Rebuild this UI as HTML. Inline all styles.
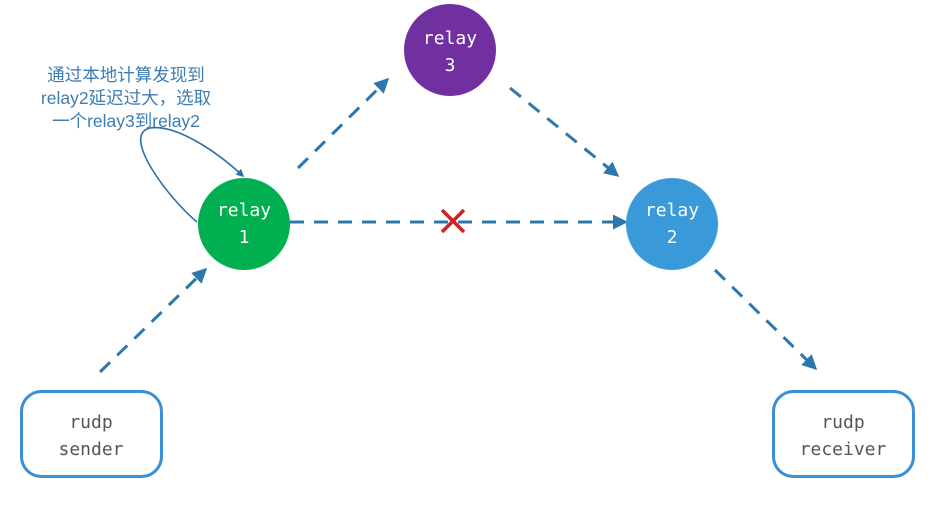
<!DOCTYPE html>
<html><head><meta charset="utf-8"><style>
body{margin:0;background:#fff;}
svg{display:block}
.m{font-family:"DejaVu Sans Mono","Liberation Mono",monospace;font-size:18px;}
</style></head><body>
<svg width="933" height="507" viewBox="0 0 933 507">
<defs>
<marker id="a" viewBox="0 0 10 10" refX="8" refY="5" markerWidth="5" markerHeight="5" orient="auto"><path d="M0,0 L10,5 L0,10 z" fill="#2e77ad"/></marker>
<marker id="b" viewBox="0 0 10 10" refX="8" refY="5" markerWidth="5" markerHeight="5" orient="auto"><path d="M0,0 L10,5 L0,10 z" fill="#2e6fa8"/></marker>
</defs>
<g stroke="#2e77ad" stroke-width="3" stroke-dasharray="14,10" fill="none" marker-end="url(#a)">
<line x1="100" y1="372" x2="205" y2="270"/>
<line x1="298" y1="168" x2="387" y2="80"/>
<line x1="510" y1="88" x2="617" y2="175"/>
<line x1="290" y1="222" x2="625" y2="222"/>
<line x1="715" y1="270" x2="815" y2="368"/>
</g>
<path d="M197,222 C170,200 120,135 150,128 C175,124 215,150 243,176" stroke="#2e6fa8" stroke-width="1.6" fill="none" marker-end="url(#b)"/>
<g stroke="#d42020" stroke-width="3.5"><line x1="442" y1="210" x2="464" y2="232"/><line x1="464" y1="210" x2="442" y2="232"/></g>
<circle cx="244" cy="224" r="46" fill="#00b050"/>
<circle cx="450" cy="50" r="46" fill="#7030a0"/>
<circle cx="672" cy="224" r="46" fill="#3a9ad9"/>
<g class="m" fill="#fff" text-anchor="middle">
<text x="244" y="216">relay</text><text x="244" y="243">1</text>
<text x="450" y="44">relay</text><text x="450" y="71">3</text>
<text x="672" y="216">relay</text><text x="672" y="243">2</text>
</g>
<rect x="21.5" y="391.5" width="140" height="85" rx="20" fill="#fff" stroke="#3a8fd6" stroke-width="3"/>
<rect x="773.5" y="391.5" width="140" height="85" rx="20" fill="#fff" stroke="#3a8fd6" stroke-width="3"/>
<g class="m" fill="#555" text-anchor="middle">
<text x="91" y="428">rudp</text><text x="91" y="455">sender</text>
<text x="843" y="428">rudp</text><text x="843" y="455">receiver</text>
</g>
<g font-family="'Liberation Sans','Noto Sans CJK SC',sans-serif" font-size="17.5" fill="#3b7db5" text-anchor="middle">
<text x="126" y="81">通过本地计算发现到</text>
<text x="126" y="104">relay2延迟过大，选取</text>
<text x="126" y="127">一个relay3到relay2</text>
</g>
</svg>
</body></html>
